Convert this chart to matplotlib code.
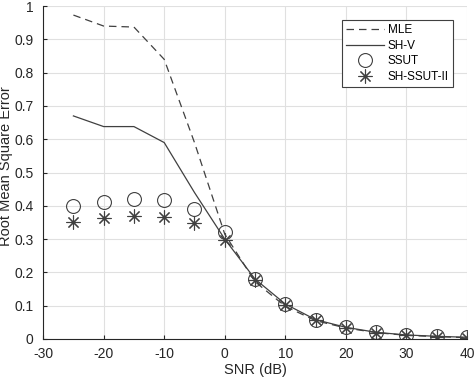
import matplotlib.pyplot as plt

plt.rcParams['font.family'] = ['Liberation Sans', 'DejaVu Sans']
plt.rcParams['axes.unicode_minus'] = False

# data
snr = [-25, -20, -15, -10, -5, 0, 5, 10, 15, 20, 25, 30, 35, 40]
mle = [0.973, 0.94, 0.937, 0.84, 0.59, 0.315, 0.172, 0.098, 0.055, 0.033, 0.019, 0.011, 0.007, 0.004]
shv = [0.67, 0.638, 0.638, 0.59, 0.44, 0.30, 0.18, 0.105, 0.058, 0.035, 0.02, 0.012, 0.008, 0.005]
ssut = [0.40, 0.412, 0.42, 0.418, 0.39, 0.32, 0.18, 0.105, 0.057, 0.035, 0.02, 0.012, 0.008, 0.005]
shssut = [0.35, 0.363, 0.37, 0.365, 0.347, 0.297, 0.178, 0.103, 0.056, 0.033, 0.019, 0.011, 0.007, 0.004]

xticks = [-30, -20, -10, 0, 10, 20, 30, 40]
yticks = [0, 0.1, 0.2, 0.3, 0.4, 0.5, 0.6, 0.7, 0.8, 0.9, 1]

col = '#404040'

fig = plt.figure( figsize = ( 4.74, 3.8 ), dpi = 100 )
ax = fig.add_axes( [ 0.091, 0.108, 0.894, 0.876 ] )

ax.plot( snr, mle, '--', color = col, lw = 0.9, dashes = ( 6, 4 ), label = 'MLE' )
ax.plot( snr, shv, '-', color = col, lw = 0.9, label = 'SH-V' )
ax.plot( snr, ssut, 'o', color = col, mfc = 'none', ms = 10, mew = 0.8, label = 'SSUT' )
ax.plot( snr, shssut, ls = 'none', marker = ( 8, 2, 0 ), color = col, ms = 10, mew = 0.8, label = 'SH-SSUT-II' )

ax.set_xlim( -30, 40 )
ax.set_ylim( 0, 1 )
ax.set_xticks( xticks )
ax.set_yticks( yticks )
ax.set_yticklabels( [ '0', '0.1', '0.2', '0.3', '0.4', '0.5', '0.6', '0.7', '0.8', '0.9', '1' ] )
ax.grid( True, color = '#e0e0e0', lw = 0.8 )
ax.set_axisbelow( True )
ax.tick_params( direction = 'in', length = 3, labelsize = 10, colors = '#262626' )
ax.tick_params( axis = 'x', pad = 5.5 )
ax.tick_params( axis = 'y', pad = 7 )
for s in [ 'top', 'right' ]:
	ax.spines[ s ].set_visible( False )
for s in [ 'left', 'bottom' ]:
	ax.spines[ s ].set_color( '#262626' )
	ax.spines[ s ].set_linewidth( 0.8 )

ax.set_xlabel( 'SNR (dB)', fontsize = 10.5, color = '#262626', labelpad = 2 )
ax.set_ylabel( 'Root Mean Square Error', fontsize = 10.5, color = '#262626' )
ax.yaxis.set_label_coords( -0.071, 0.52 )

leg = ax.legend( loc = 'upper right', bbox_to_anchor = ( 0.967, 0.958 ), fontsize = 8.5, fancybox = False,
	edgecolor = '#404040', framealpha = 1, borderpad = 0.35, labelspacing = 0.3, handlelength = 3.2,
	handletextpad = 0.34, borderaxespad = 0 )
leg.get_frame().set_linewidth( 0.8 )

fig.savefig( 'out.png', dpi = 100 )
